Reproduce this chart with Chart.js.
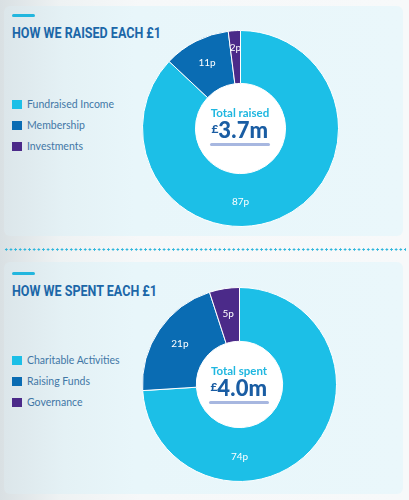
<!DOCTYPE html>
<html>
<head>
<meta charset="utf-8">
<script src="https://cdn.jsdelivr.net/npm/chart.js@4.4.1/dist/chart.umd.min.js"></script>
<style>
  html, body { margin:0; padding:0; }
  body { width:409px; height:500px; position:relative; overflow:hidden;
         background: linear-gradient(to right, #d9e0e3 0px, #eef2f3 60px, #f6f8f9 140px, #f7f9fa 100%);
         font-family: Lato, "Open Sans", sans-serif; }
  .card { position:absolute; left:4px; width:399px; border-radius:6px;
          background: linear-gradient(to right, #dce6ea 0px, #e4f1f5 60px, #e8f6fa 130px, #eaf7fb 100%); }
  .accent { position:absolute; left:12px; width:23px; height:3px; border-radius:1.5px; background:#22b6de; }
  .title { position:absolute; left:12px; font-family: Roboto, "Liberation Sans", sans-serif; font-weight:700;
           font-size:14px; color:#1b67a8; white-space:nowrap; transform-origin:left center; line-height:16px; }
  .legend { position:absolute; left:12px; font-size:10.5px; color:#4277a6; }
  .legend .row { position:absolute; left:0; white-space:nowrap; height:14px; line-height:14px; }
  .legend .sw { position:absolute; left:0; top:2.5px; width:10px; height:9px; }
  .legend .tx { position:absolute; left:15px; top:0; }
  .chartbox { position:absolute; }
  .center { position:absolute; text-align:center; width:120px; pointer-events:none; }
  .center .lab { position:absolute; left:0; width:120px; font-family: Lato, "Open Sans", sans-serif; font-weight:700; font-size:11.5px; color:#1fb7e0; line-height:14px; }
  .center .val { position:absolute; left:0; width:120px; font-family: Lato, "Open Sans", sans-serif; font-weight:900; font-size:22px; color:#1a5da3; line-height:22px; letter-spacing:0.2px; }
  .center .val sup { font-size:12px; vertical-align:top; position:relative; top:-1px; margin-right:-0.5px; }
  .center .bar { position:absolute; left:30px; width:60px; height:3px; border-radius:1.5px; background:#a7b7e0; }
  .dots { position:absolute; left:4px; width:402px; height:3px;
          background-image: radial-gradient(circle, #2eb6dc 0.95px, rgba(46,182,220,0) 1.35px);
          background-size: 4.65px 3px; background-position: 0 0; }
</style>
</head>
<body>
<script>
// ---------- DATA ----------
const raisedTitle = "HOW WE RAISED EACH £1";
const raisedCategories = ["Fundraised Income", "Membership", "Investments"];
const raisedValues = [87, 11, 2];
const raisedCenterLabel = "Total raised";
const raisedTotal = "3.7m";

const spentTitle = "HOW WE SPENT EACH £1";
const spentCategories = ["Charitable Activities", "Raising Funds", "Governance"];
const spentValues = [74, 21, 5];
const spentCenterLabel = "Total spent";
const spentTotal = "4.0m";

const sliceColors = ["#1cbfe7", "#0a6cb3", "#4b2a89"];
const valueSuffix = "p";
</script>

<div class="card" style="top:6px;height:230px;"></div>
<div class="card" style="top:262px;height:232px;"></div>
<div class="dots" style="top:248px;"></div>

<script>
// white centre + slice labels plugin
const donutDecor = {
  id: 'donutDecor',
  beforeDatasetsDraw(chart) {
    const meta = chart.getDatasetMeta(0);
    const a = meta.data[0];
    if (!a) return;
    const ctx = chart.ctx;
    ctx.save();
    ctx.fillStyle = '#ffffff';
    ctx.beginPath();
    ctx.arc(a.x, a.y, a.innerRadius + 0.5, 0, Math.PI * 2);
    ctx.fill();
    ctx.restore();
  },
  afterDatasetsDraw(chart) {
    const meta = chart.getDatasetMeta(0);
    const ctx = chart.ctx;
    const data = chart.data.datasets[0].data;
    ctx.save();
    ctx.fillStyle = '#ffffff';
    ctx.font = '400 10px Lato, "Open Sans", sans-serif';
    ctx.textAlign = 'center';
    ctx.textBaseline = 'middle';
    meta.data.forEach((arc, i) => {
      const p = arc.getProps(['x','y','startAngle','endAngle','innerRadius','outerRadius'], true);
      let ang = (p.startAngle + p.endAngle) / 2;
      const bottom = Math.PI / 2;
      if (p.endAngle - p.startAngle > Math.PI && p.startAngle <= bottom && p.endAngle >= bottom) ang = bottom;
      const span = p.endAngle - p.startAngle;
      let r = (p.innerRadius + p.outerRadius) / 2 + 2;
      if (span < 0.2) r = p.innerRadius + (p.outerRadius - p.innerRadius) * 0.68;
      ctx.fillText(data[i] + valueSuffix, p.x + Math.cos(ang) * r, p.y + Math.sin(ang) * r);
    });
    ctx.restore();
  }
};

function buildPanel(opts) {
  const body = document.body;
  const acc = document.createElement('div');
  acc.className = 'accent'; acc.style.top = opts.accentTop + 'px';
  body.appendChild(acc);

  const t = document.createElement('div');
  t.className = 'title'; t.textContent = opts.title;
  t.style.top = (opts.titleY - 8) + 'px';
  body.appendChild(t);
  const w = t.getBoundingClientRect().width;
  t.style.transform = 'scaleX(' + (opts.titleWidth / w) + ')';

  const lg = document.createElement('div');
  lg.className = 'legend';
  lg.style.top = opts.legendTop + 'px';
  opts.categories.forEach((c, i) => {
    const row = document.createElement('div');
    row.className = 'row';
    row.style.top = (i * opts.legendGap) + 'px';
    row.innerHTML = '<span class="sw" style="background:' + sliceColors[i] + '"></span><span class="tx"></span>';
    row.querySelector('.tx').textContent = c;
    lg.appendChild(row);
  });
  body.appendChild(lg);

  const box = document.createElement('div');
  box.className = 'chartbox';
  const size = opts.radius * 2 + 1;
  box.style.left = (opts.cx - size / 2) + 'px';
  box.style.top = (opts.cy - size / 2) + 'px';
  box.style.width = size + 'px';
  box.style.height = size + 'px';
  const cv = document.createElement('canvas');
  box.appendChild(cv);
  body.appendChild(box);

  new Chart(cv, {
    type: 'doughnut',
    data: {
      labels: opts.categories,
      datasets: [{
        data: opts.values,
        backgroundColor: sliceColors,
        borderColor: '#ffffff',
        borderWidth: 1,
        hoverOffset: 0
      }]
    },
    options: {
      responsive: true,
      maintainAspectRatio: false,
      animation: false,
      cutout: opts.cutout,
      layout: { padding: 0 },
      plugins: { legend: { display: false }, tooltip: { enabled: false } }
    },
    plugins: [donutDecor]
  });

  const c = document.createElement('div');
  c.className = 'center';
  c.style.left = (opts.cx - 60) + 'px';
  c.style.top = '0px';
  c.innerHTML = '<div class="lab"></div><div class="val"><sup>£</sup><span></span></div><div class="bar"></div>';
  c.querySelector('.lab').textContent = opts.centerLabel;
  c.querySelector('.lab').style.top = (opts.labY - 7) + 'px';
  c.querySelector('.val span').textContent = opts.total;
  c.querySelector('.val').style.top = (opts.valY - 11) + 'px';
  c.querySelector('.bar').style.top = (opts.barY - 1.5) + 'px';
  body.appendChild(c);
}

buildPanel({
  title: raisedTitle, categories: raisedCategories, values: raisedValues,
  centerLabel: raisedCenterLabel, total: raisedTotal,
  accentTop: 14, titleY: 33, titleWidth: 149,
  legendTop: 97, legendGap: 21,
  cx: 240, cy: 128, radius: 98, cutout: '46%',
  labY: 113, valY: 130, barY: 144.5
});
buildPanel({
  title: spentTitle, categories: spentCategories, values: spentValues,
  centerLabel: spentCenterLabel, total: spentTotal,
  accentTop: 272, titleY: 291, titleWidth: 145,
  legendTop: 353, legendGap: 21,
  cx: 239, cy: 384.5, radius: 97, cutout: '44.5%',
  labY: 370.5, valY: 388, barY: 402.5
});
</script>
</body>
</html>
